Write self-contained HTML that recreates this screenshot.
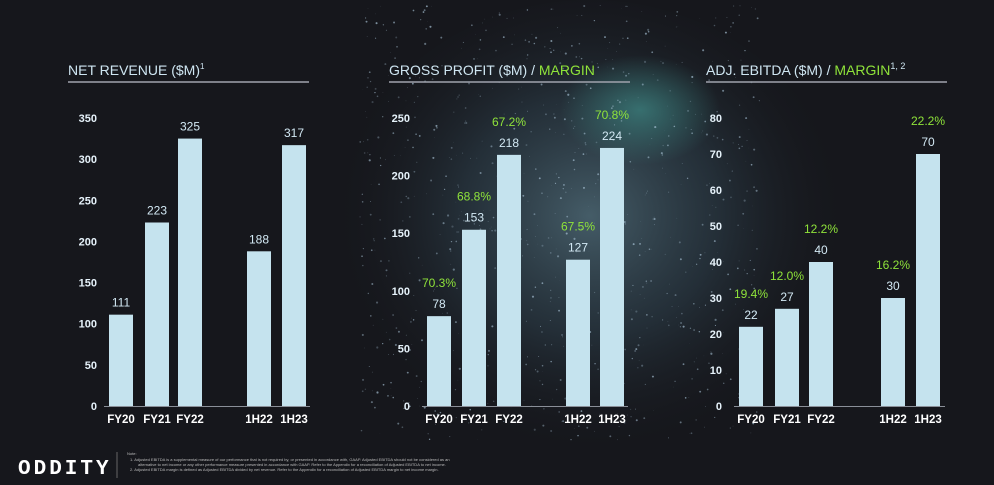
<!DOCTYPE html>
<html><head><meta charset="utf-8">
<style>
html,body{margin:0;padding:0;width:994px;height:485px;overflow:hidden;background:#16171c;}
svg{display:block;font-family:"Liberation Sans",Arial,sans-serif;}
</style></head>
<body>
<svg id="chart" width="994" height="485" viewBox="0 0 994 485">
<defs>
<radialGradient id="face" cx="0.5" cy="0.45" r="0.5">
<stop offset="0" stop-color="#4a6470" stop-opacity="0.9"/>
<stop offset="0.5" stop-color="#2b3b46" stop-opacity="0.65"/>
<stop offset="1" stop-color="#16171c" stop-opacity="0"/>
</radialGradient>
<radialGradient id="glow" cx="0.5" cy="0.5" r="0.5">
<stop offset="0" stop-color="#3f8a86" stop-opacity="0.7"/>
<stop offset="1" stop-color="#3f8a86" stop-opacity="0"/>
</radialGradient>
</defs>
<rect width="994" height="485" fill="#16171c"/>
<ellipse cx="590" cy="240" rx="260" ry="240" fill="url(#face)"/>
<ellipse cx="640" cy="110" rx="80" ry="55" fill="url(#glow)"/>
<g id="stars"></g>
<g id="panels"></g>
<g>
<text x="18" y="474" font-size="21" font-weight="bold" fill="#ffffff" letter-spacing="3" font-family="Liberation Mono,monospace">ODDITY</text>
<line x1="117" y1="452" x2="117" y2="478" stroke="#666" stroke-width="1"/>
<text x="127" y="455" font-size="4" fill="#bbb">Note:</text>
<text x="130" y="461" font-size="4" fill="#bbb">1.   Adjusted EBITDA is a supplemental measure of our performance that is not required by, or presented in accordance with, GAAP. Adjusted EBITDA should not be considered as an</text>
<text x="138" y="466" font-size="4" fill="#bbb">alternative to net income or any other performance measure presented in accordance with GAAP. Refer to the Appendix for a reconciliation of Adjusted EBITDA to net income.</text>
<text x="130" y="471" font-size="4" fill="#bbb">2.   Adjusted EBITDA margin is defined as Adjusted EBITDA divided by net revenue. Refer to the Appendix for a reconciliation of Adjusted EBITDA margin to net income margin.</text>
</g>
</svg>
<script>
const categories = ["FY20","FY21","FY22","1H22","1H23"];
const revenueValues = [111,223,325,188,317];
const grossProfitValues = [78,153,218,127,224];
const grossMarginLabels = ["70.3%","68.8%","67.2%","67.5%","70.8%"];
const ebitdaValues = [22,27,40,30,70];
const ebitdaMarginLabels = ["19.4%","12.0%","12.2%","16.2%","22.2%"];
const revenueTicks = [0,50,100,150,200,250,300,350];
const grossTicks = [0,50,100,150,200,250];
const ebitdaTicks = [0,10,20,30,40,50,60,70,80];

const NS="http://www.w3.org/2000/svg";
function mk(tag,attrs,parent){const e=document.createElementNS(NS,tag);for(const k in attrs)e.setAttribute(k,attrs[k]);parent.appendChild(e);return e;}

const stars=document.getElementById('stars');
let s=7;function rnd(){s=(s*9301+49297)%233280;return s/233280;}
for(let i=0;i<900;i++){const x=360+rnd()*400,y=5+rnd()*435;mk('circle',{cx:x,cy:y,r:rnd()*0.9+0.2,fill:'#a9c3d6','fill-opacity':0.25+rnd()*0.45},stars);}

const panels=document.getElementById('panels');
const baseY=406, topY=118;
function panel(cfg){
  const g=mk('g',{},panels);
  
  
  const maxT=cfg.ticks[cfg.ticks.length-1];
  const y=v=>baseY-(v/maxT)*(baseY-topY);
  const t=mk('text',{x:cfg.ux1,y:75,'font-size':14,fill:'#cfe6f2'},g);
  
  
  t.innerHTML=cfg.title;
  const ul=mk('line',{x1:cfg.ux1,x2:cfg.ux1+241,y1:82,y2:82,stroke:'#a0a3ad','stroke-width':1.5},g);
  
  
  cfg.ticks.forEach(v=>{
    const tt=mk('text',{x:cfg.tickX,y:y(v)+4,'font-size':11,'font-weight':'bold',fill:'#e6f2fa','text-anchor':'end'},g);
    tt.textContent=v;
    
    
  });
  const ax=mk('line',{x1:cfg.axX1,x2:cfg.axX2,y1:baseY+0.5,y2:baseY+0.5,stroke:'#8a8f98','stroke-width':1},g);
  
  
  categories.forEach((c,i)=>{
    const v=cfg.values[i], x=cfg.barX[i];
    const b=mk('rect',{x:x,y:y(v),width:24,height:baseY-y(v),fill:'#c5e3ee'},g);
    
    
    const vl=mk('text',{x:x+12,y:y(v)-8,'font-size':12,fill:'#d3e9f4','text-anchor':'middle'},g);
    vl.textContent=v;
    
    
    if(cfg.margins){
      const ml=mk('text',{x:x+12,y:y(v)-29,'font-size':12,fill:'#8fe33a','text-anchor':'middle'},g);
      ml.textContent=cfg.margins[i];
      
      
    }
    const cl=mk('text',{x:x+12,y:423,'font-size':11.5,'font-weight':'bold',fill:'#ffffff','text-anchor':'middle'},g);
    cl.textContent=c;
    
    
  });
}
panel({name:'net-revenue-chart',title:'NET REVENUE ($M)<tspan font-size="8" dy="-6">1</tspan>',ux1:68,tickX:97,axX1:104,axX2:310,ticks:revenueTicks,values:revenueValues,barX:[109,145,178,247,282]});
panel({name:'gross-profit-chart',title:'GROSS PROFIT ($M) / <tspan fill="#8fe33a">MARGIN</tspan>',ux1:389,tickX:410,axX1:422,axX2:628,ticks:grossTicks,values:grossProfitValues,margins:grossMarginLabels,barX:[427,462,497,566,600]});
panel({name:'adj-ebitda-chart',title:'ADJ. EBITDA ($M) / <tspan fill="#8fe33a">MARGIN</tspan><tspan font-size="9" dy="-6">1, 2</tspan>',ux1:706,tickX:722,axX1:734,axX2:945,ticks:ebitdaTicks,values:ebitdaValues,margins:ebitdaMarginLabels,barX:[739,775,809,881,916]});
</script>
</body></html>
